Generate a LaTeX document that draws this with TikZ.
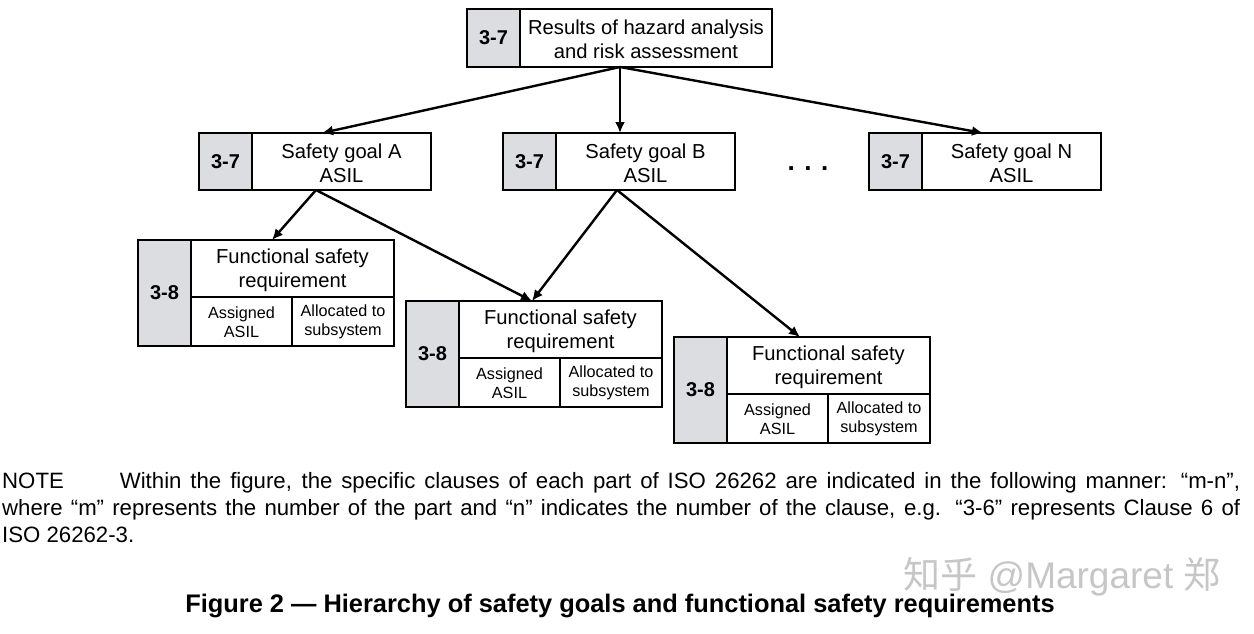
\documentclass[tikz,border=0pt]{standalone}
\usepackage{fontspec}
\setmainfont{Liberation Sans}
\newfontfamily\cjk{Noto Sans CJK SC}
\definecolor{boxgray}{HTML}{DCDDE0}
\begin{document}
\begin{tikzpicture}[x=1pt,y=-1pt,
  frame/.style={draw,line width=1.6pt},
  gbox/.style={frame,fill=boxgray},
  num/.style={font=\fontsize{20}{22}\selectfont\bfseries},
  lab/.style={font=\fontsize{20.2}{24}\selectfont,align=center},
  small/.style={font=\fontsize{16.2}{19.5}\selectfont,align=center},
  arr/.style={line width=2.4pt,-{Latex[length=11pt,width=10pt]}}]
\usetikzlibrary{arrows.meta}
\useasboundingbox (0,0) rectangle (1254,633);
% top box
\draw[gbox] (467,9) rectangle (520,67);
\draw[frame] (520,9) rectangle (772,67);
\node[num] (tn) at (493.5,38) {3-7};
\node[lab] (tt) at (646,39) {Results of hazard analysis\\and risk assessment};
\coordinate (topb) at (620,67);
% goals
\foreach \x/\n/\t in {199/A/ga,503/B/gb,869/N/gn}{
  \draw[gbox] (\x,133) rectangle ++(53,57);
  \draw[frame] (\x+53,133) rectangle ++(179,57);
  \node[num] at (\x+26.5,161.5) {3-7};
  \node[lab] (\t) at (\x+142.5,163) {Safety goal \n\\ASIL};
}
\coordinate (gaT) at (322,133); \coordinate (gbT) at (620,133); \coordinate (gnT) at (983,133);
\coordinate (gaB) at (316,190); \coordinate (gbB) at (617,190);
\node[font=\fontsize{26}{26}\selectfont\bfseries] (dots) at (808,169) {. . .};
% FSR
\foreach \x/\y/\t in {138/240/fa,406/301/fb,674/337/fc}{
  \draw[gbox] (\x,\y) rectangle ++(53,106);
  \draw[frame] (\x+53,\y) rectangle ++(203,57);
  \draw[frame] (\x+53,\y+57) rectangle ++(101,49);
  \draw[frame] (\x+154,\y+57) rectangle ++(102,49);
  \node[num] at (\x+26.5,\y+53) {3-8};
  \node[lab] (\t) at (\x+154.5,\y+30) {Functional safety\\requirement};
  \node[small] at (\x+103.5,\y+82) {Assigned\\ASIL};
  \node[small] at (\x+205,\y+82) {Allocated to\\subsystem};
}
\coordinate (faT) at (272,240); \coordinate (fbT) at (532,301); \coordinate (fcT) at (800,337);
\draw[arr] (topb) -- (gaT);
\draw[arr] (topb) -- (gbT);
\draw[arr] (topb) -- (gnT);
\draw[arr] (gaB) -- (faT);
\draw[arr] (gaB) -- (fbT);
\draw[arr] (gbB) -- (fbT);
\draw[arr] (gbB) -- (fcT);
% note
\node[anchor=north west,inner sep=0,text width=1238pt,align=justify,
  font=\fontsize{22.2}{27}\selectfont] (note) at (2,472)
 {NOTE\hspace{56pt}Within the figure, the specific clauses of each part of ISO 26262 are indicated in the following manner: “m-n”,\linebreak
 where “m” represents the number of the part and “n” indicates the number of the clause, e.g. “3-6” represents Clause 6 of\linebreak
 ISO 26262-3.};
\node[font=\fontsize{37}{37}\selectfont,text=gray!45] (wm) at (1062,577) {{\cjk 知乎} @Margaret {\cjk 郑}};
\node[font=\fontsize{25.4}{28}\selectfont\bfseries] (cap) at (620,606) {Figure 2 — Hierarchy of safety goals and functional safety requirements};
\end{tikzpicture}
\end{document}
